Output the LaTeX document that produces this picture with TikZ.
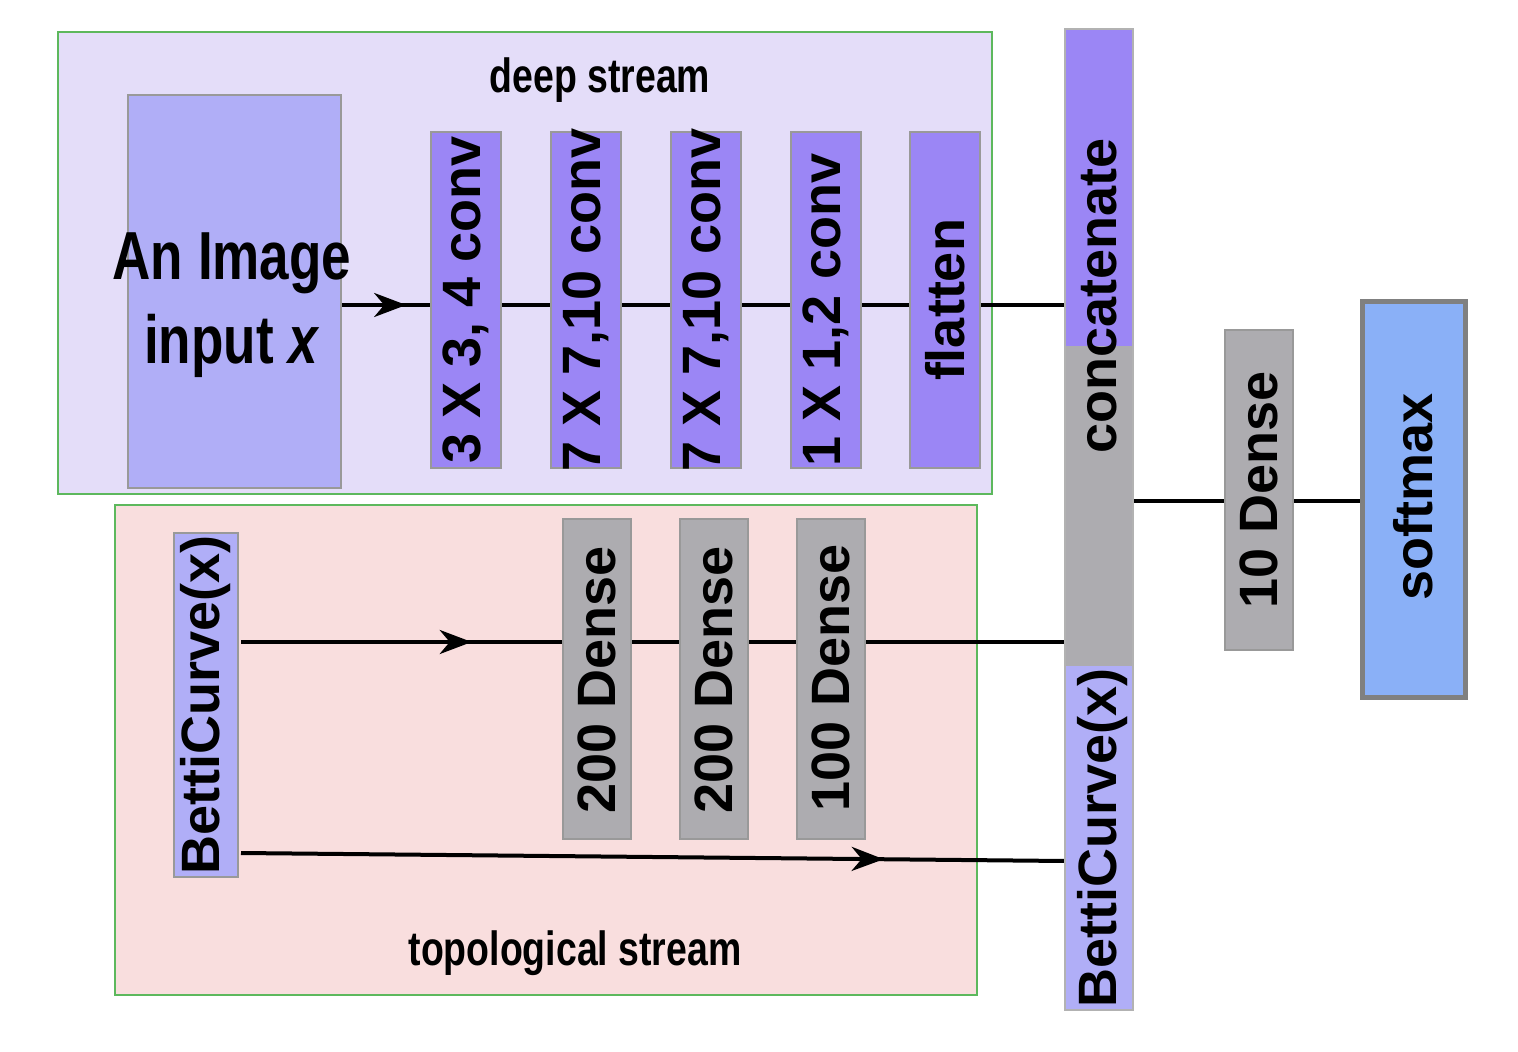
\documentclass[tikz,border=0pt]{standalone}
\usepackage{fontspec}
\setmainfont{Liberation Sans}
\usetikzlibrary{arrows.meta,decorations.markings}
\definecolor{deepbg}{HTML}{E4DDF9}
\definecolor{topobg}{HTML}{F9DEDE}
\definecolor{lav}{HTML}{B0AEF7}
\definecolor{purp}{HTML}{9B86F5}
\definecolor{gry}{HTML}{ADACB0}
\definecolor{blu}{HTML}{8AB0F7}
\definecolor{grn}{HTML}{5DB85D}
\newcommand{\cond}[1]{\scalebox{0.78}[1]{#1}}
\begin{document}
\begin{tikzpicture}[x=0.5pt,y=-0.5pt,
  stream/.style={draw=grn,line width=0.8pt},
  blk/.style={draw=gray!80,line width=0.6pt},
  lbl/.style={font=\fontsize{27}{30}\selectfont\bfseries,rotate=90},
  con/.style={line width=2pt},
  midarrow/.style={decoration={markings,mark=at position #1 with {\arrow{Stealth[length=16pt,width=12pt,inset=5pt]}}},postaction={decorate}}]
\useasboundingbox (0,0) rectangle (1518,1052);
\draw[stream,fill=deepbg] (58,32) rectangle (992,494);
\draw[stream,fill=topobg] (115,505) rectangle (977,995);
\node[font=\fontsize{24}{26}\selectfont\bfseries] (ds) at (600,80) {\cond{deep stream}};
\node[font=\fontsize{24}{26}\selectfont\bfseries] (ts) at (575,953) {\cond{topological stream}};
% connectors first (behind)
\coordinate (c1) at (1065,305);
\coordinate (c2) at (1065,642);
\coordinate (c3) at (1065,861);
\draw[con,midarrow=0.09] (341,305) -- (c1);
\draw[con,midarrow=0.28] (241,642) -- (c2);
\draw[con,midarrow=0.78] (241,853) -- (c3);
\draw[con] (1133,501) -- (1362,501);
% image
\draw[blk,fill=lav] (128,95) rectangle (341,488);
\node[font=\fontsize{34}{42}\selectfont\bfseries,align=center] (img) at (232,305) {\cond{An Image}\\\cond{input \textit{x}}};
% convs
\foreach \x/\t/\n in {431/3 X 3{,} 4 conv/a,551/7 X 7{,}10 conv/b,671/7 X 7{,}10 conv/c,791/1 X 1{,}2 conv/d,910/flatten/e}{
  \draw[blk,fill=purp] (\x,132) rectangle (\x+70,468);
}
\node[lbl] (a) at (466,300) {3 X 3, 4 conv};
\node[lbl] (b) at (586,300) {7 X 7,10 conv};
\node[lbl] (c) at (706,300) {7 X 7,10 conv};
\node[lbl] (d) at (826,310) {1 X 1,2 conv};
\node[lbl] (e) at (945,300) {flatten};
% betti
\draw[blk,fill=lav] (174,533) rectangle (238,877);
\node[lbl] (bc) at (206,705) {BettiCurve(x)};
% dense
\draw[blk,fill=gry] (563,519) rectangle (631,839);
\draw[blk,fill=gry] (680,519) rectangle (748,839);
\draw[blk,fill=gry] (797,519) rectangle (865,839);
\node[lbl] (d1) at (597,680) {200 Dense};
\node[lbl] (d2) at (714,680) {200 Dense};
\node[lbl] (d3) at (831,678) {100 Dense};
% concat column
\fill[purp] (1065,29) rectangle (1133,346);
\fill[gry] (1065,346) rectangle (1133,666);
\fill[lav] (1065,666) rectangle (1133,1010);
\draw[gray!60,line width=0.6pt] (1065,29) rectangle (1133,1010);
\node[lbl] (cc) at (1099,296) {concatenate};
\node[lbl] (bc2) at (1103,838) {BettiCurve(x)};
% 10 dense and softmax
\draw[blk,fill=gry] (1225,330) rectangle (1293,650);
\node[lbl] (d10) at (1259,490) {10 Dense};
\draw[draw=gray,line width=2.5pt,fill=blu] (1362,302) rectangle (1465,697);
\node[lbl] (sm) at (1413,497) {softmax};
\end{tikzpicture}
\end{document}
